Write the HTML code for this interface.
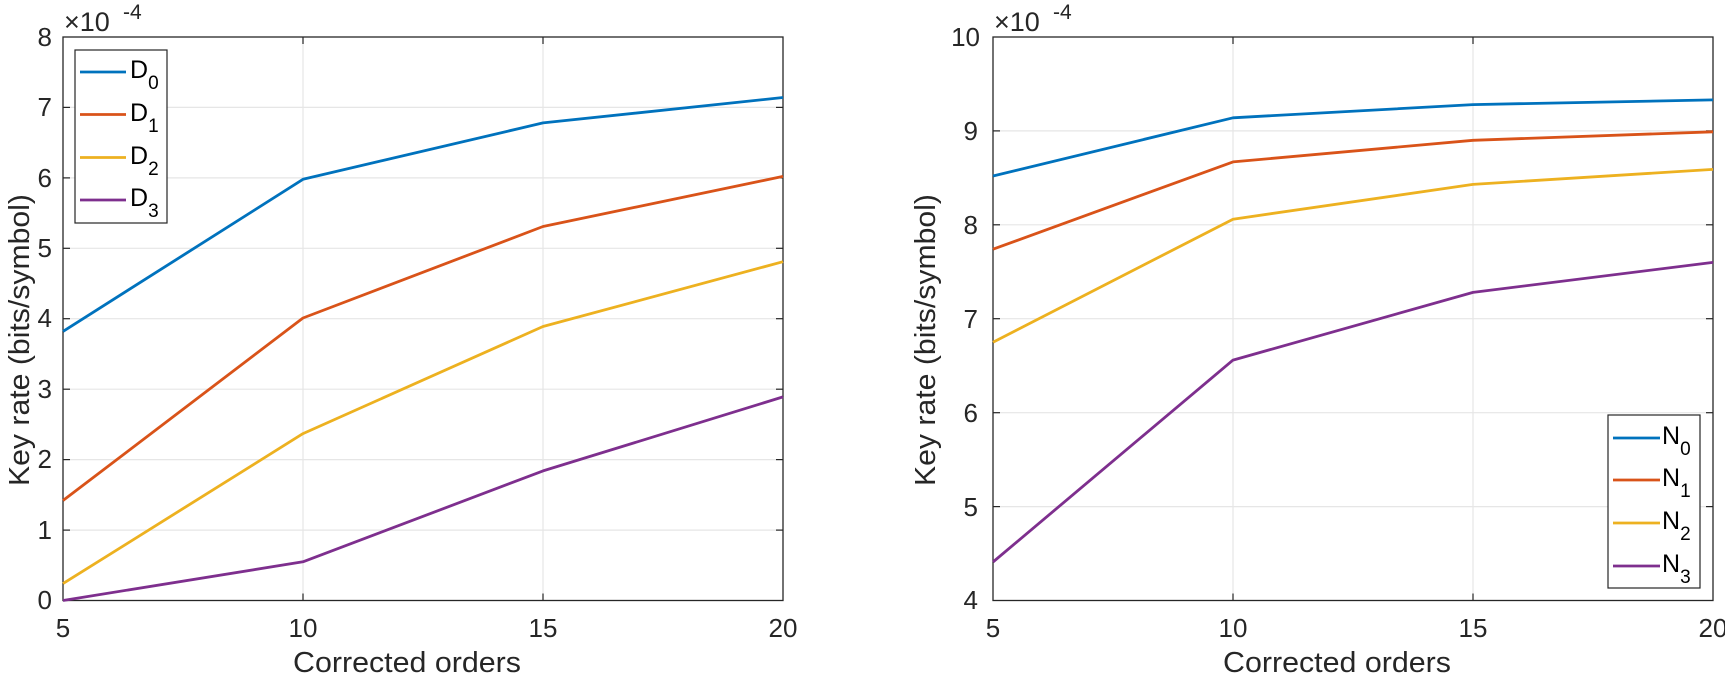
<!DOCTYPE html>
<html><head><meta charset="utf-8"><style>
html,body{margin:0;padding:0;background:#fff;}
svg{display:block;font-family:"Liberation Sans",sans-serif;}
</style></head><body>
<svg width="1725" height="675" viewBox="0 0 1725 675" xmlns="http://www.w3.org/2000/svg">
<!-- LEFT PLOT -->
<g>
<rect x="63" y="37" width="720" height="563.5" fill="#fff"/>
<g stroke="#e6e6e6" stroke-width="1.2">
<line x1="63" x2="783" y1="530.1" y2="530.1"/><line x1="63" x2="783" y1="459.6" y2="459.6"/>
<line x1="63" x2="783" y1="389.2" y2="389.2"/><line x1="63" x2="783" y1="318.7" y2="318.7"/>
<line x1="63" x2="783" y1="248.3" y2="248.3"/><line x1="63" x2="783" y1="177.9" y2="177.9"/>
<line x1="63" x2="783" y1="107.4" y2="107.4"/>
<line x1="303" x2="303" y1="37" y2="600.5"/><line x1="543" x2="543" y1="37" y2="600.5"/>
</g>
<g stroke="#262626" stroke-width="1.2">
<line x1="63" x2="70" y1="530.1" y2="530.1"/><line x1="63" x2="70" y1="459.6" y2="459.6"/><line x1="63" x2="70" y1="389.2" y2="389.2"/><line x1="63" x2="70" y1="318.7" y2="318.7"/><line x1="63" x2="70" y1="248.3" y2="248.3"/><line x1="63" x2="70" y1="177.9" y2="177.9"/><line x1="63" x2="70" y1="107.4" y2="107.4"/>
<line x1="776" x2="783" y1="530.1" y2="530.1"/><line x1="776" x2="783" y1="459.6" y2="459.6"/><line x1="776" x2="783" y1="389.2" y2="389.2"/><line x1="776" x2="783" y1="318.7" y2="318.7"/><line x1="776" x2="783" y1="248.3" y2="248.3"/><line x1="776" x2="783" y1="177.9" y2="177.9"/><line x1="776" x2="783" y1="107.4" y2="107.4"/>
<line x1="303" x2="303" y1="593.5" y2="600.5"/><line x1="543" x2="543" y1="593.5" y2="600.5"/>
<line x1="303" x2="303" y1="37" y2="44"/><line x1="543" x2="543" y1="37" y2="44"/>
</g>
<rect x="63" y="37" width="720" height="563.5" fill="none" stroke="#262626" stroke-width="1.3"/>
<g fill="none" stroke-width="2.8" stroke-linejoin="round">
<polyline stroke="#0072bd" points="63,331.4 303,179.3 543,122.9 783,97.5"/>
<polyline stroke="#d95319" points="63,500.5 303,318 543,226.5 783,176.4"/>
<polyline stroke="#edb120" points="63,583.6 303,433.6 543,326.5 783,261.7"/>
<polyline stroke="#7e2f8e" points="63,600.5 303,561.8 543,470.9 783,396.9"/>
</g>
<g fill="#262626" font-size="26" text-anchor="end">
<text x="52" y="609">0</text><text x="52" y="539">1</text><text x="52" y="468">2</text><text x="52" y="398">3</text><text x="52" y="327">4</text><text x="52" y="257">5</text><text x="52" y="187">6</text><text x="52" y="116">7</text><text x="52" y="46">8</text>
</g>
<g fill="#262626" font-size="26" text-anchor="middle">
<text x="63" y="637">5</text><text x="303" y="637">10</text><text x="543" y="637">15</text><text x="783" y="637">20</text>
</g>
<text x="293" y="672" font-size="29" fill="#262626" textLength="228" lengthAdjust="spacingAndGlyphs">Corrected orders</text>
<text transform="translate(29,486) rotate(-90)" font-size="29" fill="#262626" textLength="292" lengthAdjust="spacingAndGlyphs">Key rate (bits/symbol)</text>
<text x="64" y="31" font-size="27" fill="#262626">×10</text><text x="123" y="19" font-size="21" fill="#262626">-4</text>
<rect x="75" y="50" width="92" height="173" fill="#fff" stroke="#262626" stroke-width="1.2"/>
<g stroke-width="2.8"><line x1="80" x2="126" y1="72" y2="72" stroke="#0072bd"/><line x1="80" x2="126" y1="114.5" y2="114.5" stroke="#d95319"/><line x1="80" x2="126" y1="157.5" y2="157.5" stroke="#edb120"/><line x1="80" x2="126" y1="200" y2="200" stroke="#7e2f8e"/></g>
<g fill="#000" font-size="25">
<text x="130" y="78">D<tspan font-size="19" dy="11">0</tspan></text>
<text x="130" y="121">D<tspan font-size="19" dy="11">1</tspan></text>
<text x="130" y="164">D<tspan font-size="19" dy="11">2</tspan></text>
<text x="130" y="206">D<tspan font-size="19" dy="11">3</tspan></text>
</g>
</g>
<!-- RIGHT PLOT -->
<g>
<g stroke="#e6e6e6" stroke-width="1.2">
<line x1="993" x2="1713" y1="506.6" y2="506.6"/><line x1="993" x2="1713" y1="412.7" y2="412.7"/><line x1="993" x2="1713" y1="318.7" y2="318.7"/><line x1="993" x2="1713" y1="224.8" y2="224.8"/><line x1="993" x2="1713" y1="130.9" y2="130.9"/>
<line x1="1233" x2="1233" y1="37" y2="600.5"/><line x1="1473" x2="1473" y1="37" y2="600.5"/>
</g>
<g stroke="#262626" stroke-width="1.2">
<line x1="993" x2="1000" y1="506.6" y2="506.6"/><line x1="993" x2="1000" y1="412.7" y2="412.7"/><line x1="993" x2="1000" y1="318.7" y2="318.7"/><line x1="993" x2="1000" y1="224.8" y2="224.8"/><line x1="993" x2="1000" y1="130.9" y2="130.9"/>
<line x1="1706" x2="1713" y1="506.6" y2="506.6"/><line x1="1706" x2="1713" y1="412.7" y2="412.7"/><line x1="1706" x2="1713" y1="318.7" y2="318.7"/><line x1="1706" x2="1713" y1="224.8" y2="224.8"/><line x1="1706" x2="1713" y1="130.9" y2="130.9"/>
<line x1="1233" x2="1233" y1="593.5" y2="600.5"/><line x1="1473" x2="1473" y1="593.5" y2="600.5"/>
<line x1="1233" x2="1233" y1="37" y2="44"/><line x1="1473" x2="1473" y1="37" y2="44"/>
</g>
<rect x="993" y="37" width="720" height="563.5" fill="none" stroke="#262626" stroke-width="1.3"/>
<g fill="none" stroke-width="2.8" stroke-linejoin="round">
<polyline stroke="#0072bd" points="993,176 1233,117.8 1473,104.6 1713,99.9"/>
<polyline stroke="#d95319" points="993,249.2 1233,161.9 1473,140.3 1713,131.8"/>
<polyline stroke="#edb120" points="993,342.2 1233,219.2 1473,184.4 1713,169.4"/>
<polyline stroke="#7e2f8e" points="993,562 1233,360.1 1473,292.4 1713,262.4"/>
</g>
<g fill="#262626" font-size="26" text-anchor="end">
<text x="978" y="609">4</text><text x="978" y="516">5</text><text x="978" y="422">6</text><text x="978" y="328">7</text><text x="978" y="234">8</text><text x="978" y="140">9</text><text x="980" y="46">10</text>
</g>
<g fill="#262626" font-size="26" text-anchor="middle">
<text x="993" y="637">5</text><text x="1233" y="637">10</text><text x="1473" y="637">15</text><text x="1713" y="637">20</text>
</g>
<text x="1223" y="672" font-size="29" fill="#262626" textLength="228" lengthAdjust="spacingAndGlyphs">Corrected orders</text>
<text transform="translate(935,486) rotate(-90)" font-size="29" fill="#262626" textLength="292" lengthAdjust="spacingAndGlyphs">Key rate (bits/symbol)</text>
<text x="994" y="31" font-size="27" fill="#262626">×10</text><text x="1053" y="19" font-size="21" fill="#262626">-4</text>
<rect x="1608" y="415" width="92" height="173" fill="#fff" stroke="#262626" stroke-width="1.2"/>
<g stroke-width="2.8"><line x1="1613" x2="1660" y1="438" y2="438" stroke="#0072bd"/><line x1="1613" x2="1660" y1="480" y2="480" stroke="#d95319"/><line x1="1613" x2="1660" y1="523" y2="523" stroke="#edb120"/><line x1="1613" x2="1660" y1="566" y2="566" stroke="#7e2f8e"/></g>
<g fill="#000" font-size="25">
<text x="1662" y="444">N<tspan font-size="19" dy="11">0</tspan></text>
<text x="1662" y="486">N<tspan font-size="19" dy="11">1</tspan></text>
<text x="1662" y="529">N<tspan font-size="19" dy="11">2</tspan></text>
<text x="1662" y="572">N<tspan font-size="19" dy="11">3</tspan></text>
</g>
</g>
</svg>
</body></html>
